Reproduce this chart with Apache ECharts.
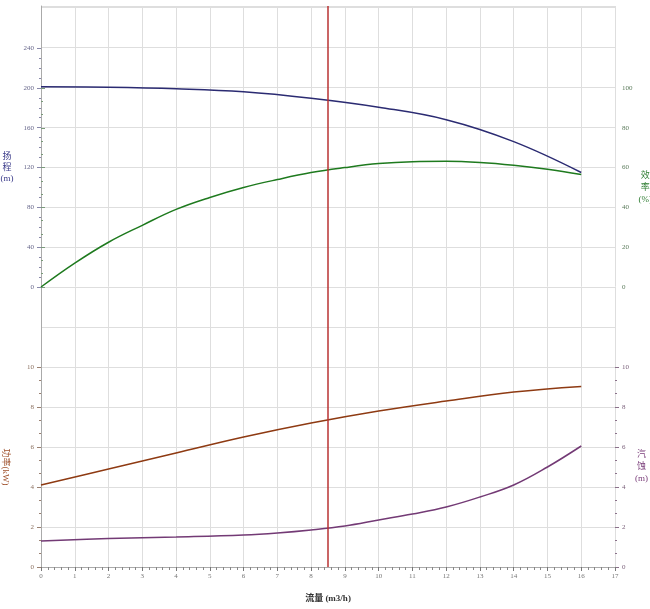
<!DOCTYPE html>
<html>
<head>
<meta charset="utf-8">
<script src="https://cdn.jsdelivr.net/npm/echarts@6/dist/echarts.min.js"></script>
<style>html,body{margin:0;padding:0;background:#fff;}#c{width:650px;height:609px;}</style>
</head>
<body>
<div id="c"></div>
<script>
const flowTicks = [0,1,2,3,4,5,6,7,8,9,10,11,12,13,14,15,16,17];
const flowHead = [0,2,4,6,8,10,12,14,16];
const head = [201,200.5,199,196,189.5,180.5,168,146,115];
const flowEff = [0,1,2,3,4,5,6,7,8,9,10,11,12,13,14,15,16];
const efficiency = [0,12,22.5,31,39,45,50,54,57.5,60,62,63,63.2,62.6,61.2,59.2,56.5];
const flowPower = [0,2,4,6,8,10,12,14,16];
const power = [4.1,4.9,5.7,6.5,7.2,7.8,8.3,8.75,9.03];
const flowNpsh = [0,2,4,6,7,8,9,10,11,12,13,14,15,16];
const npsh = [1.3,1.42,1.5,1.6,1.7,1.85,2.05,2.35,2.65,3.0,3.5,4.1,5.0,6.05];
const dutyFlow = 8.5;
const xName = '流量 (m3/h)';

const pairs = (xs, ys) => xs.map((x, i) => [x, ys[i]]);
const serif = '"Liberation Serif","DejaVu Serif","Noto Sans CJK SC",serif';
const cjk = '"Liberation Serif","Noto Sans CJK SC",serif';
const gridCol = '#dedede';
const axisCol = '#aaaaaa';
const L = 41, R = 35;

const hiddenX = (g) => ({gridIndex: g, type: 'value', min: 0, max: 17, show: false});
const mkGrid = (top, bottom) => ({left: L, right: R, top: top, bottom: bottom, containLabel: false, outerBoundsMode: 'none'});

const chart = echarts.init(document.getElementById('c'));
chart.setOption({
  animation: false,
  backgroundColor: '#fff',
  grid: [mkGrid(6, 42), mkGrid(48, 322), mkGrid(88, 322), mkGrid(367, 42)],
  xAxis: [
    {gridIndex: 0, type: 'value', min: 0, max: 17, interval: 1,
     name: xName, nameLocation: 'middle', nameGap: 27,
     nameTextStyle: {fontFamily: cjk, fontSize: 9, fontWeight: 'bold', color: '#333'},
     axisLine: {show: true, lineStyle: {color: axisCol}},
     axisTick: {show: true, length: 4, lineStyle: {color: '#777'}},
     minorTick: {show: true, splitNumber: 5, length: 3, lineStyle: {color: '#888'}},
     axisLabel: {fontFamily: serif, fontSize: 7, color: '#777', margin: 6},
     splitLine: {show: true, lineStyle: {color: gridCol}}},
    hiddenX(1), hiddenX(2), hiddenX(3)
  ],
  yAxis: [
    {gridIndex: 0, type: 'value', min: 0, max: 14.025, interval: 1,
     axisLine: {show: true, lineStyle: {color: axisCol}},
     axisTick: {show: false}, axisLabel: {show: false},
     splitLine: {show: true, lineStyle: {color: gridCol}}},
    {gridIndex: 1, type: 'value', position: 'left', min: 0, max: 240, interval: 40,
     name: '扬\n程\n(m)', nameLocation: 'middle', nameGap: 34, nameRotate: 0,
     nameTextStyle: {fontFamily: cjk, fontSize: 9, color: '#3b3b8a', lineHeight: 11, align: 'center', verticalAlign: 'middle'},
     axisLine: {show: false},
     axisTick: {show: true, length: 4, lineStyle: {color: '#8888aa'}},
     minorTick: {show: true, splitNumber: 4, length: 2, lineStyle: {color: '#8888aa'}},
     axisLabel: {fontFamily: serif, fontSize: 7, color: '#66668a', margin: 7},
     splitLine: {show: false}},
    {gridIndex: 2, type: 'value', position: 'right', min: 0, max: 100, interval: 20,
     name: '效\n率\n(%)', nameLocation: 'middle', nameGap: 21, nameRotate: 0,
     nameTextStyle: {fontFamily: cjk, fontSize: 9, color: '#2e7d32', lineHeight: 12, align: 'center', verticalAlign: 'middle'},
     axisLine: {show: false},
     axisTick: {show: true, length: 4, lineStyle: {color: '#7a9a7a'}},
     minorTick: {show: true, splitNumber: 3, length: 2, lineStyle: {color: '#7a9a7a'}},
     axisLabel: {fontFamily: serif, fontSize: 7, color: '#5a7a5a', margin: 7},
     splitLine: {show: false}},
    {gridIndex: 3, type: 'value', position: 'left', min: 0, max: 10, interval: 2,
     name: '功率(kW)', nameLocation: 'middle', nameGap: 36, nameRotate: -90,
     nameTextStyle: {fontFamily: cjk, fontSize: 9, color: '#a0522d', align: 'center', verticalAlign: 'middle'},
     axisLine: {show: false},
     axisTick: {show: true, length: 4, lineStyle: {color: '#9a8070'}},
     minorTick: {show: true, splitNumber: 3, length: 2, lineStyle: {color: '#9a8070'}},
     axisLabel: {fontFamily: serif, fontSize: 7, color: '#8a7060', margin: 7},
     splitLine: {show: false}},
    {gridIndex: 3, type: 'value', position: 'right', min: 0, max: 10, interval: 2,
     name: '汽\n蚀\n(m)', nameLocation: 'middle', nameGap: 26, nameRotate: 0,
     nameTextStyle: {fontFamily: cjk, fontSize: 9, color: '#7b3f7b', lineHeight: 12, align: 'center', verticalAlign: 'middle'},
     axisLine: {show: false},
     axisTick: {show: true, length: 4, lineStyle: {color: '#8a708a'}},
     minorTick: {show: true, splitNumber: 3, length: 2, lineStyle: {color: '#8a708a'}},
     axisLabel: {fontFamily: serif, fontSize: 7, color: '#7a607a', margin: 7},
     splitLine: {show: false}}
  ],
  series: [
    {type: 'line', xAxisIndex: 0, yAxisIndex: 0, data: [], symbol: 'none',
     markLine: {silent: true, symbol: 'none', label: {show: false},
       lineStyle: {color: '#b83232', width: 1.5, type: 'solid'},
       data: [{xAxis: dutyFlow}]}},
    {type: 'line', xAxisIndex: 1, yAxisIndex: 1, data: pairs(flowHead, head), smooth: 0.4,
     symbol: 'none', lineStyle: {color: '#2b2b72', width: 1.5}},
    {type: 'line', xAxisIndex: 2, yAxisIndex: 2, data: pairs(flowEff, efficiency), smooth: 0.4,
     symbol: 'none', lineStyle: {color: '#1e7a1e', width: 1.5}},
    {type: 'line', xAxisIndex: 3, yAxisIndex: 3, data: pairs(flowPower, power), smooth: 0.4,
     symbol: 'none', lineStyle: {color: '#8e3a12', width: 1.5}},
    {type: 'line', xAxisIndex: 3, yAxisIndex: 4, data: pairs(flowNpsh, npsh), smooth: 0.4,
     symbol: 'none', lineStyle: {color: '#733a75', width: 1.5}}
  ]
});
</script>
</body>
</html>
